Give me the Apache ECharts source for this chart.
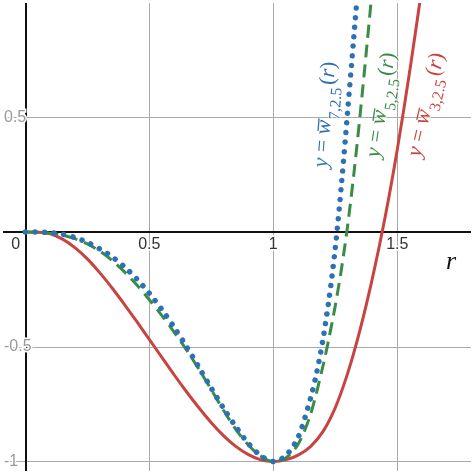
<!DOCTYPE html>
<html><head><meta charset="utf-8">
<script src="https://cdn.jsdelivr.net/npm/echarts/dist/echarts.min.js"></script>
<style>html,body{margin:0;padding:0;background:#fff}#c{width:474px;height:474px}</style>
</head><body><div id="c"></div>
<script>
// ---- data ----
const rRed   = [0,0.05,0.1,0.15,0.2,0.25,0.3,0.35,0.4,0.45,0.5,0.55,0.6,0.65,0.7,0.75,0.8,0.85,0.9,0.95,1,1.05,1.1,1.15,1.2,1.25,1.3,1.35,1.4,1.45,1.5,1.55,1.6];
const wRed   = [0,-0.001,-0.008,-0.031,-0.068,-0.117,-0.177,-0.244,-0.316,-0.391,-0.468,-0.545,-0.622,-0.696,-0.766,-0.831,-0.888,-0.935,-0.97,-0.993,-1,-0.993,-0.972,-0.935,-0.87,-0.765,-0.615,-0.425,-0.2,0.06,0.36,0.7,1.07];
const rGreen = [0,0.05,0.1,0.15,0.2,0.25,0.3,0.35,0.4,0.45,0.5,0.55,0.6,0.65,0.7,0.75,0.8,0.85,0.9,0.95,1,1.05,1.1,1.15,1.2,1.225,1.25,1.275,1.3,1.325,1.35,1.375,1.4];
const wGreen = [0,-0.001,-0.005,-0.014,-0.029,-0.052,-0.083,-0.124,-0.174,-0.231,-0.295,-0.363,-0.436,-0.514,-0.598,-0.687,-0.778,-0.862,-0.929,-0.977,-1,-0.985,-0.925,-0.795,-0.585,-0.46,-0.32,-0.16,0.03,0.255,0.51,0.785,1.07];
const rBlue  = [0,0.05,0.1,0.15,0.2,0.25,0.3,0.35,0.4,0.45,0.5,0.55,0.6,0.65,0.7,0.75,0.8,0.85,0.9,0.95,1,1.05,1.1,1.15,1.175,1.2,1.225,1.25,1.275,1.3,1.325,1.35];
const wBlue  = [0,-0.0005,-0.003,-0.01,-0.024,-0.045,-0.073,-0.108,-0.152,-0.205,-0.267,-0.337,-0.415,-0.5,-0.59,-0.681,-0.769,-0.85,-0.922,-0.975,-1,-0.975,-0.895,-0.725,-0.612,-0.47,-0.29,-0.07,0.21,0.53,0.855,1.18];
const xTickLabels = [0, 0.5, 1, 1.5];
const yTickLabels = [-1, -0.5, 0.5];
const seriesSubs = ['3,2.5', '5,2.5', '7,2.5'];
const axisVar = 'r';

const RED = '#c74440', GREEN = '#388c46', BLUE = '#2d70b3';
const SANS = '"Liberation Sans", Arial, sans-serif';
const SERIF = '"Liberation Serif", "DejaVu Serif", serif';
const pairs = (xs, ys) => xs.map((x, i) => [x, ys[i]]);

const chart = echarts.init(document.getElementById('c'), null, {renderer: 'canvas'});

// math-style label builder (layout only)
const mctx = document.createElement('canvas').getContext('2d');
function mathLabel(x0, y0, deg, color, sub) {
  const parts = [
    {t: 'y', f: 'italic 22px ' + SERIF},
    {t: ' = ', f: '22px ' + SERIF},
    {t: 'w', f: 'italic 22px ' + SERIF, bar: true},
    {t: sub, f: '16px ' + SERIF, dy: 10, pre: 1, post: 2},
    {t: '(', f: '22px ' + SERIF},
    {t: 'r', f: 'italic 22px ' + SERIF},
    {t: ')', f: '22px ' + SERIF}
  ];
  const children = [];
  let x = 0;
  parts.forEach(p => {
    mctx.font = p.f;
    const w = mctx.measureText(p.t).width;
    x += p.pre || 0;
    children.push({
      type: 'text', x: x, y: p.dy || 0,
      style: {text: p.t, font: p.f, fill: color, align: 'left', verticalAlign: 'middle',
              textAlign: 'left', textVerticalAlign: 'middle',
              stroke: 'rgba(255,255,255,0.7)', lineWidth: 2}
    });
    if (p.bar) {
      children.push({type: 'line', shape: {x1: x + 3, y1: -6, x2: x + w + 1, y2: -6},
                     style: {stroke: color, lineWidth: 1.3}});
    }
    x += w + (p.post || 0);
  });
  return {type: 'group', x: x0, y: y0, rotation: deg * Math.PI / 180, z: 50, children};
}

const option = {
  animation: false,
  backgroundColor: '#ffffff',
  grid: {left: -98.7, right: -47.3, top: -112.25, bottom: -102.25, containLabel: false, outerBoundsMode: 'none'},
  xAxis: {
    type: 'value', min: -0.5, max: 2.0, interval: 0.5,
    axisLine: {onZero: true, lineStyle: {color: '#111', width: 2}},
    axisTick: {show: false},
    axisLabel: {show: false},
    splitLine: {show: true, lineStyle: {color: '#aaaaaa', width: 1}}
  },
  yAxis: {
    type: 'value', min: -1.5, max: 1.5, interval: 0.5,
    axisLine: {onZero: true, lineStyle: {color: '#111', width: 2}},
    axisTick: {show: false},
    axisLabel: {show: false},
    splitLine: {show: true, lineStyle: {color: '#aaaaaa', width: 1}}
  },
  series: [
    {type: 'line', name: seriesSubs[0], data: pairs(rRed, wRed), showSymbol: false, smooth: 0.3, z: 3,
     lineStyle: {color: RED, width: 3}},
    {type: 'line', name: seriesSubs[1], data: pairs(rGreen, wGreen), showSymbol: false, smooth: 0.3, z: 4,
     lineStyle: {color: GREEN, width: 3, type: [13, 7]}},
    {type: 'line', name: seriesSubs[2], data: pairs(rBlue, wBlue), showSymbol: false, smooth: 0.3, z: 5,
     lineStyle: {color: BLUE, width: 5.5, type: [0.01, 9.6], cap: 'round'}}
  ]
};
chart.setOption(option);

// tick labels placed through the chart's own scales
const gfx = [];
xTickLabels.forEach(v => {
  const p = chart.convertToPixel({gridIndex: 0}, [v, 0]);
  gfx.push({type: 'text', x: p[0] + (v === 0 ? -9.5 : 0), y: p[1] + 5, z: 40,
    style: {text: String(v), font: '16px ' + SANS, fill: '#333', align: 'center', verticalAlign: 'top',
            textAlign: 'center', textVerticalAlign: 'top', stroke: '#fff', lineWidth: 3}});
});
yTickLabels.forEach(v => {
  const p = chart.convertToPixel({gridIndex: 0}, [0, v]);
  gfx.push({type: 'text', x: 4, y: p[1], z: 40,
    style: {text: String(v), font: '16px ' + SANS, fill: '#9a9a9a', align: 'left', verticalAlign: 'middle',
            textAlign: 'left', textVerticalAlign: 'middle', stroke: '#fff', lineWidth: 3}});
});
gfx.push(
  mathLabel(321.2, 167.5, 85.5, BLUE, seriesSubs[2]),
  mathLabel(373.6, 157.5, 81.5, GREEN, seriesSubs[1]),
  mathLabel(414.5, 156.5, 77, RED, seriesSubs[0]),
  {type: 'text', x: 451, y: 262, z: 50,
   style: {text: axisVar, font: 'italic 26px ' + SERIF, fill: '#111',
           align: 'center', verticalAlign: 'middle', textAlign: 'center', textVerticalAlign: 'middle'}},
  {type: 'rect', shape: {x: 0, y: 0, width: 474, height: 3}, style: {fill: '#fff'}, z: 100},
  {type: 'rect', shape: {x: 0, y: 471, width: 474, height: 3}, style: {fill: '#fff'}, z: 100},
  {type: 'rect', shape: {x: 0, y: 0, width: 3, height: 474}, style: {fill: '#fff'}, z: 100},
  {type: 'rect', shape: {x: 471, y: 0, width: 3, height: 474}, style: {fill: '#fff'}, z: 100}
);
chart.setOption({graphic: gfx});
</script>
</body></html>
